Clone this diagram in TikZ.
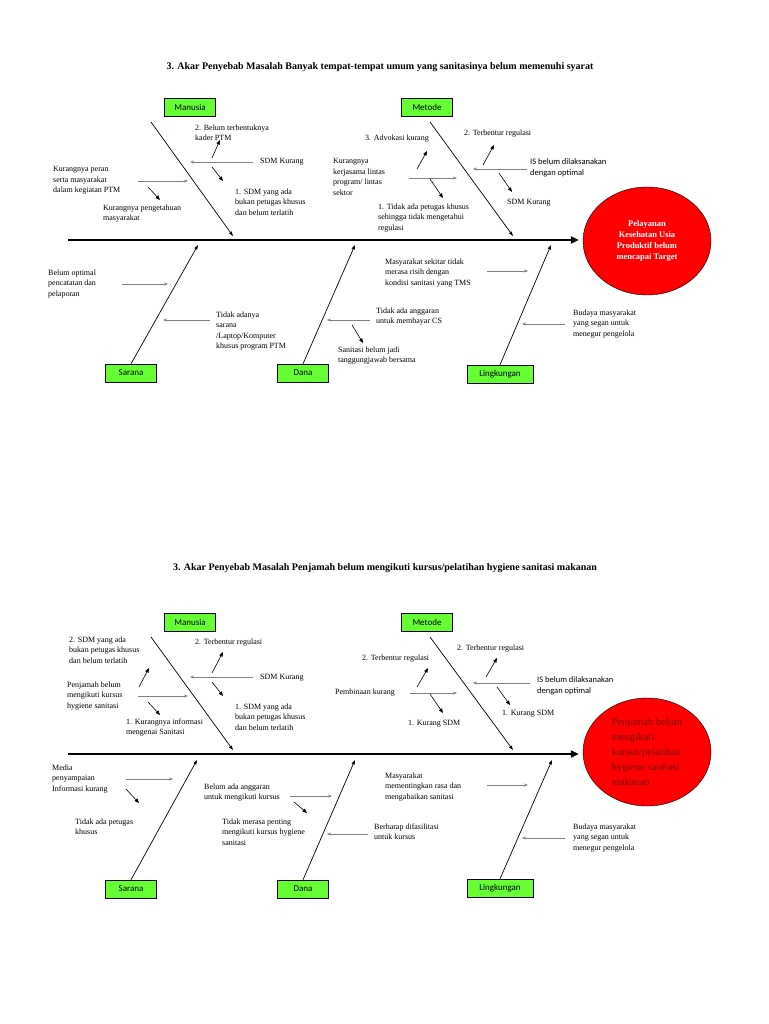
\documentclass[tikz,border=0pt]{standalone}
\usepackage{fontspec}
\setmainfont{Liberation Serif}
\newfontfamily\boxfont{Carlito}
\usetikzlibrary{arrows.meta,shapes.geometric}

\definecolor{boxgreen}{RGB}{102,255,51}
\definecolor{goalred}{RGB}{255,0,0}
\definecolor{arrgray}{RGB}{128,128,128}
\definecolor{darkred}{RGB}{120,0,0}

\tikzset{
  catbox/.style={draw, fill=boxgreen, minimum width=51pt, minimum height=18pt, inner sep=1pt,
    font=\boxfont\fontsize{9}{10}\selectfont},
  cause/.style={anchor=north west, align=left, inner sep=0pt, font=\fontsize{8}{10.5}\selectfont},
  causesf/.style={cause, font=\boxfont\fontsize{8.5}{10.5}\selectfont},
  grayarr/.style={draw=arrgray, line width=0.6pt, -{Stealth[length=4pt,width=3pt]}},
  blkarr/.style={line width=0.6pt, -{Triangle[length=4.5pt,width=3.5pt]}},
  bone/.style={line width=0.7pt, -{Triangle[length=4.5pt,width=3pt]}},
  spine/.style={line width=2.4pt, -{Triangle[length=8pt,width=7pt]}, shorten >=4pt},
  goal/.style={ellipse, draw, fill=goalred, minimum width=128pt, minimum height=108pt, inner sep=0pt},
  title/.style={anchor=base, font=\bfseries\fontsize{10}{12}\selectfont}
}

\begin{document}
\begin{tikzpicture}[x=1pt,y=-1pt]
\fill[white] (0,0) rectangle (768,1024);
\useasboundingbox (0,0) rectangle (768,1024);

% ---------- diagram 1
\node[title] (titleT) at (380,70) {3. Akar Penyebab Masalah Banyak tempat-tempat umum yang sanitasinya belum memenuhi syarat};

\node[catbox] (manT) at (190,107) {Manusia};
\node[catbox] (metT) at (427,107) {Metode};
\node[catbox] (sarT) at (131,373) {Sarana};
\node[catbox] (danT) at (303,373) {Dana};
\node[catbox, minimum width=66pt] (linT) at (500,374) {Lingkungan};
\node[goal, text=white, align=center, font=\bfseries\fontsize{8.5}{10.7}\selectfont] (goalT) at (647,241)
  {Pelayanan\\Kesehatan Usia\\Produktif belum\\mencapai Target};

\coordinate (spT) at (68,240);
\draw[spine] (spT) -- (spT -| goalT.west);

\coordinate (manTa) at (151,122); \coordinate (manTb) at (233,236);
\coordinate (metTa) at (430,122); \coordinate (metTb) at (513,236);
\coordinate (sarTb) at (198,245);
\coordinate (danTb) at (355,245);
\coordinate (linTb) at (551,245);
\draw[bone] (manTa) -- (manTb);
\draw[bone] (metTa) -- (metTb);
\draw[bone] (sarT.north) -- (sarTb);
\draw[bone] (danT.north) -- (danTb);
\draw[bone] (linT.north) -- (linTb);

% gray arrows
\foreach \a/\b [count=\i] in {{253,162}/{190,162}, {138,181}/{188,181}, {409,178}/{457,178},
    {527,169}/{473,169}, {122,284}/{168,284}, {210,320}/{163,320}, {487,271}/{528,271},
    {370,320}/{327,320}, {565,324}/{522,324}}
  {\coordinate (tga\i) at (\a); \coordinate (tgb\i) at (\b); \draw[grayarr] (tga\i) -- (tgb\i);}
% small black arrows
\foreach \a/\b [count=\i] in {{212,158}/{220,140}, {212,167}/{223,181}, {148,187}/{160,200},
    {417,169}/{427,151}, {430,179}/{443,198}, {483,165}/{494,145}, {499,173}/{512,192},
    {352,325}/{363,343}}
  {\coordinate (tka\i) at (\a); \coordinate (tkb\i) at (\b); \draw[blkarr] (tka\i) -- (tkb\i);}

\node[cause] (t1) at (195,124.5) {2. Belum terbentuknya\\kader PTM};
\node[cause] (t2) at (260,158.5) {SDM Kurang};
\node[cause] (t3) at (235,188.5) {1. SDM yang ada\\bukan petugas khusus\\dan belum terlatih};
\node[cause] (t4) at (53,166.5) {Kurangnya peran\\serta masyarakat\\dalam kegiatan PTM};
\node[cause] (t5) at (103,204.5) {Kurangnya pengetahuan\\masyarakat};
\node[cause] (t6) at (365,134.5) {3. Advokasi kurang};
\node[cause] (t7) at (333,158.5) {Kurangnya\\kerjasama lintas\\program/ lintas\\sektor};
\node[cause] (t8) at (378,203.5) {1. Tidak ada petugas khusus\\sehingga tidak mengetahui\\regulasi};
\node[cause] (t9) at (464,129.5) {2. Terbentur regulasi};
\node[causesf] (t10) at (530,158.5) {IS belum dilaksanakan\\dengan optimal};
\node[cause] (t11) at (507,199.5) {SDM Kurang};
\node[cause] (t12) at (48,269.5) {Belum optimal\\pencatatan dan\\pelaporan};
\node[cause] (t13) at (216,311.5) {Tidak adanya\\sarana\\/Laptop/Komputer\\khusus program PTM};
\node[cause] (t14) at (385,258.5) {Masyarakat sekitar tidak\\merasa risih dengan\\kondisi sanitasi yang TMS};
\node[cause] (t15) at (376,307.5) {Tidak ada anggaran\\untuk membayar CS};
\node[cause] (t16) at (338,346.5) {Sanitasi belum jadi\\tanggungjawab bersama};
\node[cause] (t17) at (573,309.5) {Budaya masyarakat\\yang segan untuk\\menegur pengelola};

% ---------- diagram 2
\node[title] (titleB) at (385,570) {3. Akar Penyebab Masalah Penjamah belum mengikuti kursus/pelatihan hygiene sanitasi makanan};

\node[catbox] (manB) at (190,622) {Manusia};
\node[catbox] (metB) at (427,622) {Metode};
\node[catbox] (sarB) at (131,889) {Sarana};
\node[catbox] (danB) at (303,889) {Dana};
\node[catbox, minimum width=66pt] (linB) at (500,888) {Lingkungan};
\node[goal, text=darkred, align=left, font=\fontsize{10.5}{15}\selectfont] (goalB) at (647,752)
  {Penjamah belum\\mengikuti\\kursus/pelatihan\\hygiene sanitasi\\makanan};

\coordinate (spB) at (68,754);
\draw[spine] (spB) -- (spB -| goalB.west);

\coordinate (manBa) at (151,637); \coordinate (manBb) at (233,750);
\coordinate (metBa) at (430,637); \coordinate (metBb) at (513,750);
\coordinate (sarBb) at (197,760);
\coordinate (danBb) at (355,760);
\coordinate (linBb) at (552,760);
\draw[bone] (manBa) -- (manBb);
\draw[bone] (metBa) -- (metBb);
\draw[bone] (sarB.north) -- (sarBb);
\draw[bone] (danB.north) -- (danBb);
\draw[bone] (linB.north) -- (linBb);

% gray arrows
\foreach \a/\b [count=\i] in {{253,677}/{190,677}, {138,696}/{188,696}, {530,683}/{473,683},
    {410,693}/{457,693}, {126,779}/{173,779}, {290,796}/{332,796}, {368,834}/{327,834},
    {487,785}/{528,785}, {565,838}/{522,838}}
  {\coordinate (bga\i) at (\a); \coordinate (bgb\i) at (\b); \draw[grayarr] (bga\i) -- (bgb\i);}
% small black arrows
\foreach \a/\b [count=\i] in {{139,687}/{149,668}, {148,702}/{160,715}, {212,673}/{223,652},
    {212,682}/{223,696}, {486,677}/{497,658}, {497,687}/{510,705}, {417,687}/{428,668},
    {430,694}/{443,713}, {126,789}/{139,803}, {294,802}/{307,813}}
  {\coordinate (bka\i) at (\a); \coordinate (bkb\i) at (\b); \draw[blkarr] (bka\i) -- (bkb\i);}

\node[cause] (b1) at (69,636.5) {2. SDM yang ada\\bukan petugas khusus\\dan belum terlatih};
\node[cause] (b2) at (67,681.5) {Penjamah belum\\mengikuti kursus\\hygiene sanitasi};
\node[cause] (b3) at (126,718.5) {1. Kurangnya informasi\\mengenai Sanitasi};
\node[cause] (b4) at (195,638.5) {2. Terbentur regulasi};
\node[cause] (b5) at (260,673.5) {SDM Kurang};
\node[cause] (b6) at (235,703.5) {1. SDM yang ada\\bukan petugas khusus\\dan belum terlatih};
\node[cause] (b7) at (457,644.5) {2. Terbentur regulasi};
\node[causesf] (b8) at (537,676.5) {IS belum dilaksanakan\\dengan optimal};
\node[cause] (b9) at (502,709.5) {1. Kurang SDM};
\node[cause] (b10) at (362,654.5) {2. Terbentur regulasi};
\node[cause] (b11) at (335,688.5) {Pembinaan kurang};
\node[cause] (b12) at (408,719.5) {1. Kurang SDM};
\node[cause] (b13) at (52,764.5) {Media\\penyampaian\\Informasi kurang};
\node[cause] (b14) at (75,818.5) {Tidak ada petugas\\khusus};
\node[cause] (b15) at (204,783.5) {Belum ada anggaran\\untuk mengikuti kursus};
\node[cause] (b16) at (222,818.5) {Tidak merasa penting\\mengikuti kursus hygiene\\sanitasi};
\node[cause] (b17) at (385,772.5) {Masyarakat\\mementingkan rasa dan\\mengabaikan sanitasi};
\node[cause] (b18) at (374,823.5) {Berharap difasilitasi\\untuk kursus};
\node[cause] (b19) at (573,823.5) {Budaya masyarakat\\yang segan untuk\\menegur pengelola};
\end{tikzpicture}
\end{document}
